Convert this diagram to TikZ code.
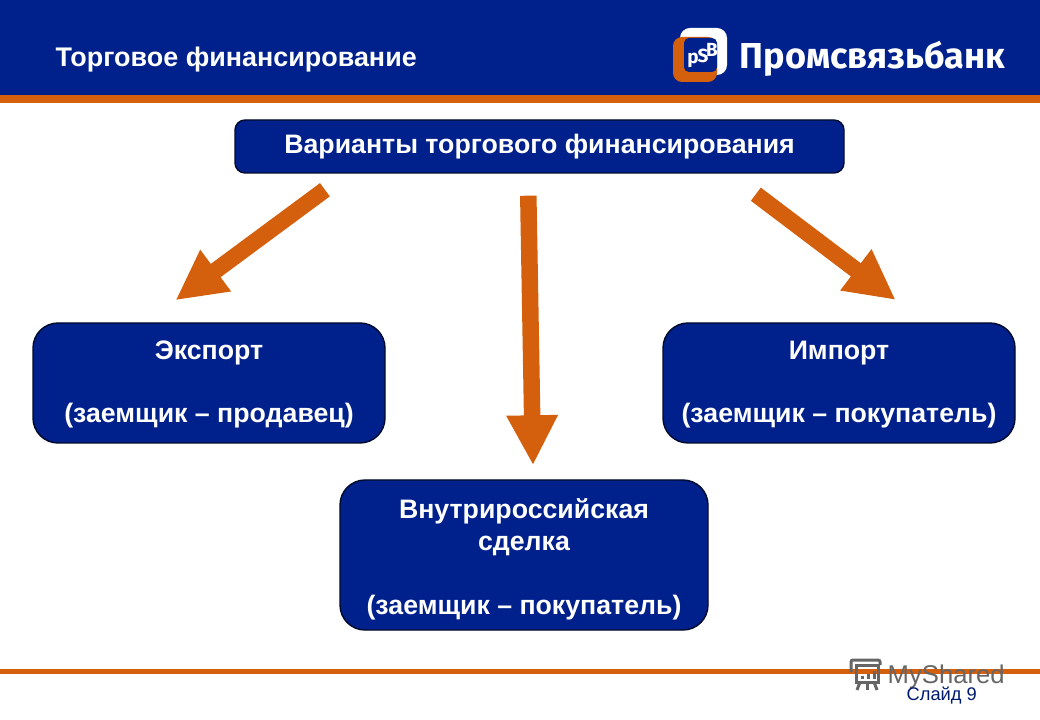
\documentclass[tikz,border=0pt]{standalone}
\usepackage{fontspec}
\setmainfont{Liberation Sans}
\newfontfamily\logofont{Fira Sans}
\usetikzlibrary{arrows.meta,calc}
\definecolor{psbblue}{RGB}{0,32,140}
\definecolor{psborange}{RGB}{212,95,12}
\newcommand{\topgap}[1]{\rule{0pt}{#1}}
\tikzset{
  box/.style={draw=black!70!psbblue, line width=0.4pt, fill=psbblue, text=white, align=center,
    font=\bfseries\fontsize{7.6}{9.1}\selectfont, rounded corners=0.25cm, inner sep=0pt},
  flow/.style={draw=psborange, line width=0.165cm, -{Triangle[length=0.5cm,width=0.48cm]}},
  logoletter/.style={text=white, inner sep=0pt, font=\logofont\bfseries\fontsize{5.4}{6}\selectfont},
  mark line/.style={black!60, line width=0.03cm}
}
\begin{document}
\begin{tikzpicture}
      \useasboundingbox (0, 0) rectangle (10.4, -7.2);
      \fill[psbblue] (0, 0) rectangle (10.4, -0.95);
      \fill[psborange] (0, -0.95) rectangle (10.4, -1.03);
      \fill[psborange] (0, -6.69) rectangle (10.4, -6.74);
      \node[anchor=west, text=white, inner sep=0pt] (title) at (0.55, -0.6) {\bfseries\fontsize{7.66}{8}\selectfont Торговое финансирование};
      % logo
      \fill[white, rounded corners=0.1cm] (6.8, -0.28) rectangle (7.27, -0.75);
      \fill[psborange, rounded corners=0.09cm] (6.73, -0.37) rectangle (7.17, -0.82);
      \fill[psbblue, rounded corners=0.05cm] (6.84, -0.38) rectangle (7.17, -0.72);
      \node[logoletter] (logop) at (6.93, -0.6) {p};
      \node[logoletter] (logos) at (7.03, -0.56) {S};
      \node[logoletter] (logob) at (7.12, -0.5) {B};
      \node[anchor=base west, text=white, inner sep=0pt] (bank) at (7.39, -0.69) {\logofont\bfseries\fontsize{10.26}{11}\selectfont Промсвязьбанк};
      % boxes
      \node[box, rounded corners=0.1cm, minimum width=6.09cm, minimum height=0.53cm] (varianty) at (5.395, -1.465) {Варианты торгового финансирования};
      \node[box, minimum width=3.52cm, minimum height=1.2cm] (eksport) at (2.09, -3.83) {\topgap{0.22cm}Экспорт\\[0.31cm](заемщик – продавец)};
      \node[box, minimum width=3.52cm, minimum height=1.2cm] (import) at (8.39, -3.83) {\topgap{0.22cm}Импорт\\[0.31cm](заемщик – покупатель)};
      \node[box, minimum width=3.68cm, minimum height=1.5cm] (sdelka) at (5.24, -5.55) {\topgap{0.28cm}Внутрироссийская\\сделка\\[0.32cm](заемщик – покупатель)};
      % arrows
      \draw[flow, shorten <=0.27cm, shorten >=0.37cm] ($(varianty.south west)!0.184!(varianty.south east)$) -- ($(eksport.north west)!0.321!(eksport.north east)$);
      \draw[flow, shorten <=0.22cm, shorten >=0.14cm] ($(varianty.south west)!0.481!(varianty.south east)$) -- ($(sdelka.north west)!0.525!(sdelka.north east)$);
      \draw[flow, shorten <=0.34cm, shorten >=0.37cm] ($(varianty.south west)!0.81!(varianty.south east)$) -- ($(import.north west)!0.744!(import.north east)$);
      % watermark
      \node[anchor=west, text=black!60, inner sep=0pt] (myshared) at (8.87, -6.77) {\fontsize{7.3}{8}\selectfont MyShared};
      \draw[mark line] (8.56, -6.65) rectangle (8.78, -6.82);
      \draw[mark line, rounded corners=0.02cm] (8.51, -6.72) -- (8.51, -6.6) -- (8.8, -6.6) -- (8.8, -6.65);
      \draw[mark line] (8.6, -6.82) -- (8.57, -6.9);
      \draw[mark line] (8.67, -6.82) -- (8.67, -6.9);
      \draw[mark line] (8.74, -6.82) -- (8.77, -6.9);
      \foreach \x/\h in {8.61/0.03, 8.67/0.05, 8.73/0.08}
        \fill[black!60] (\x, -6.79) rectangle (\x+0.03, -6.79+\h);
      \node[anchor=west, text=psbblue!80!black, inner sep=0pt] (slide) at (9.06, -6.96) {\fontsize{5.2}{6}\selectfont Слайд 9};
\end{tikzpicture}
\end{document}
